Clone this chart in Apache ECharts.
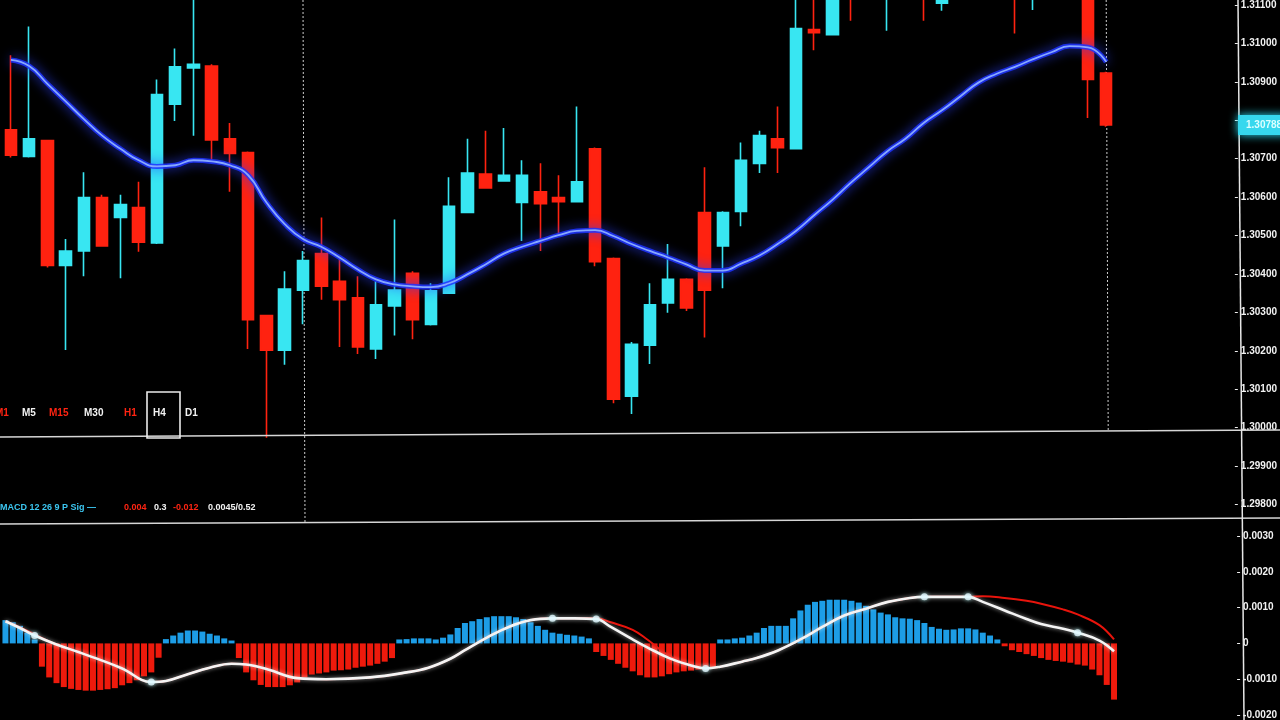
<!DOCTYPE html>
<html>
<head>
<meta charset="utf-8">
<script src="https://cdn.jsdelivr.net/npm/echarts@6/dist/echarts.min.js"></script>
<style>
html,body{margin:0;padding:0;background:#000;overflow:hidden;}
#c{width:1280px;height:720px;}
</style>
</head>
<body>
<div id="c"></div>
<script>
// ---------------- DATA ----------------
const opens = [1.30775,1.30706,1.30747,1.30422,1.30460,1.30599,1.30547,1.30573,1.30481,1.30842,
 1.30936,1.30941,1.30752,1.30716,1.30292,1.30202,1.30358,1.30453,1.30381,1.30338,
 1.30205,1.30317,1.30402,1.30269,1.30350,1.30560,1.30660,1.30642,1.30586,1.30614,
 1.30599,1.30588,1.30726,1.30440,1.30082,1.30215,1.30325,1.30386,1.30560,1.30473,
 1.30563,1.30688,1.30752,1.30726,1.31036,1.31023,1.31246,1.31195,1.31118,1.31246,
 1.31220,1.31105,1.31195,1.31297,1.31207,1.31195,1.31131,1.31246,1.31156,1.31143,
 1.30923];
const closes = [1.30709,1.30752,1.30422,1.30460,1.30599,1.30473,1.30581,1.30483,1.30867,1.30939,
 1.30946,1.30749,1.30714,1.30281,1.30202,1.30361,1.30435,1.30368,1.30333,1.30210,
 1.30320,1.30358,1.30281,1.30356,1.30576,1.30663,1.30624,1.30657,1.30657,1.30583,
 1.30588,1.30640,1.30432,1.30074,1.30217,1.30320,1.30386,1.30312,1.30358,1.30560,
 1.30696,1.30760,1.30729,1.31039,1.31028,1.31156,1.31143,1.31297,1.31220,1.31169,
 1.31131,1.31195,1.31271,1.31207,1.31284,1.31118,1.31207,1.31156,1.31233,1.30906,
 1.30788];
const lows = [1.30703,1.30703,1.30417,1.30202,1.30394,1.30471,1.30389,1.30458,1.30478,1.30798,
 1.30760,1.30696,1.30614,1.30205,1.29974,1.30164,1.30269,1.30333,1.30210,1.30192,
 1.30179,1.30240,1.30230,1.30266,1.30348,1.30558,1.30622,1.30640,1.30486,1.30460,
 1.30504,1.30586,1.30420,1.30064,1.30036,1.30166,1.30299,1.30304,1.30235,1.30363,
 1.30524,1.30663,1.30663,1.30724,1.30982,1.31021,1.31059,1.31169,1.31033,1.31143,
 1.31059,1.31085,1.31169,1.31182,1.31182,1.31026,1.31087,1.31131,1.31131,1.30806,
 1.30783];
const highs = [1.30969,1.31044,1.30749,1.30491,1.30665,1.30606,1.30606,1.30640,1.30906,1.30987,
 1.31143,1.30946,1.30793,1.30719,1.30294,1.30407,1.30460,1.30547,1.30445,1.30394,
 1.30381,1.30542,1.30407,1.30376,1.30652,1.30752,1.30773,1.30780,1.30696,1.30688,
 1.30657,1.30836,1.30729,1.30443,1.30223,1.30376,1.30478,1.30389,1.30678,1.30563,
 1.30742,1.30773,1.30836,1.31118,1.31118,1.31195,1.31271,1.31322,1.31246,1.31271,
 1.31246,1.31220,1.31297,1.31322,1.31310,1.31220,1.31233,1.31271,1.31259,1.31169,
 1.30926];
const maLine = [1.30957,1.30941,1.30895,1.30849,1.30803,1.30760,1.30726,1.30696,1.30680,1.30683,
 1.30696,1.30693,1.30683,1.30657,1.30586,1.30530,1.30491,1.30471,1.30443,1.30412,
 1.30386,1.30373,1.30368,1.30366,1.30376,1.30399,1.30425,1.30453,1.30471,1.30486,
 1.30501,1.30512,1.30514,1.30499,1.30478,1.30460,1.30443,1.30425,1.30409,1.30409,
 1.30427,1.30448,1.30478,1.30512,1.30553,1.30593,1.30637,1.30678,1.30719,1.30752,
 1.30793,1.30826,1.30862,1.30898,1.30921,1.30939,1.30959,1.30977,1.30993,1.30990,
 1.30952];

const macdHist = [0.00065,0.00059,0.00049,0.00030,0.00011,-0.00065,-0.00095,-0.00111,-0.00122,-0.00127,
 -0.00130,-0.00132,-0.00132,-0.00130,-0.00128,-0.00125,-0.00117,-0.00111,-0.00103,-0.00092,
 -0.00081,-0.00040,0.00012,0.00022,0.00030,0.00036,0.00036,0.00033,0.00027,0.00022,
 0.00014,0.00008,-0.00041,-0.00081,-0.00103,-0.00116,-0.00122,-0.00122,-0.00122,-0.00117,
 -0.00109,-0.00095,-0.00087,-0.00084,-0.00081,-0.00076,-0.00075,-0.00073,-0.00068,-0.00065,
 -0.00062,-0.00057,-0.00051,-0.00041,0.00011,0.00012,0.00014,0.00014,0.00014,0.00011,
 0.00016,0.00025,0.00043,0.00057,0.00062,0.00068,0.00073,0.00076,0.00076,0.00076,
 0.00073,0.00068,0.00059,0.00049,0.00038,0.00030,0.00027,0.00024,0.00022,0.00019,
 0.00014,-0.00024,-0.00035,-0.00046,-0.00057,-0.00068,-0.00078,-0.00089,-0.00095,-0.00095,
 -0.00092,-0.00086,-0.00081,-0.00078,-0.00076,-0.00073,-0.00070,-0.00068,0.00011,0.00011,
 0.00014,0.00016,0.00022,0.00030,0.00043,0.00049,0.00049,0.00049,0.00070,0.00092,
 0.00108,0.00116,0.00119,0.00122,0.00122,0.00122,0.00119,0.00114,0.00105,0.00095,
 0.00086,0.00081,0.00073,0.00070,0.00069,0.00065,0.00057,0.00046,0.00041,0.00038,
 0.00039,0.00042,0.00042,0.00039,0.00030,0.00022,0.00011,-0.00008,-0.00019,-0.00024,
 -0.00030,-0.00035,-0.00041,-0.00046,-0.00049,-0.00051,-0.00054,-0.00059,-0.00062,-0.00073,
 -0.00089,-0.00116,-0.00157];

// main (white) line: bar index and value
const whiteIdx = [0,2,4,7,10,13,16,20,22,25,28,31,33,36,40,44,50,55,58,61,63,66,69,72,75,78,81,83,86,88,91,94,96,98,101,103,106,109,112,115,118,121,124,126,129,132,134,137,140,142,145,147,150,152];
const whiteVal = [0.00062,0.00043,0.00022,-0.00003,-0.00024,-0.00046,-0.00070,-0.00108,-0.00105,-0.00086,-0.00068,-0.00057,-0.00059,-0.00073,-0.00097,-0.00100,-0.00095,-0.00081,-0.00068,-0.00043,-0.00019,0.00016,0.00046,0.00065,0.00070,0.00070,0.00068,0.00046,0.00011,-0.00011,-0.00041,-0.00062,-0.00070,-0.00065,-0.00051,-0.00041,-0.00019,0.00011,0.00046,0.00078,0.00097,0.00116,0.00127,0.00130,0.00130,0.00130,0.00116,0.00092,0.00068,0.00054,0.00041,0.00030,0.00008,-0.00022];
// signal (red) line
const redIdx = [0,2,4,7,10,13,16,20,22,25,28,31,33,36,40,44,50,55,58,61,63,66,69,72,75,78,81,83,86,88,91,94,96,98,101,103,106,109,112,115,118,121,124,126,129,132,134,137,140,142,145,147,150,152];
const redVal = [0.00062,0.00045,0.00025,-0.00003,-0.00024,-0.00046,-0.00070,-0.00108,-0.00105,-0.00086,-0.00068,-0.00057,-0.00059,-0.00073,-0.00097,-0.00100,-0.00095,-0.00081,-0.00068,-0.00043,-0.00019,0.00016,0.00046,0.00065,0.00070,0.00070,0.00070,0.00059,0.00038,0.00011,-0.00035,-0.00062,-0.00070,-0.00065,-0.00051,-0.00041,-0.00019,0.00011,0.00046,0.00078,0.00097,0.00116,0.00127,0.00130,0.00130,0.00130,0.00132,0.00127,0.00119,0.00111,0.00095,0.00081,0.00051,0.00011];
// crossing dots (bar indexes on the white line)
const dotIdx = [4,20,75,81,96,126,132,147];

const mainTicks = {min:1.2980, max:1.3110, step:0.0010};
const macdTicks = {min:-0.0020, max:0.0030, step:0.0010};
const tfLabels = ['M1','M5','M15','M30','H1','H4','D1'];
const N_MAIN = 67, N_MACD = 168;

// ---------------- CHART ----------------
const catMain = Array.from({length:N_MAIN},(_,i)=>String(i));
const catMacd = Array.from({length:N_MACD},(_,i)=>String(i));
const candles = opens.map((o,i)=>[o, closes[i], lows[i], highs[i]]);
const whiteData = whiteIdx.map((k,i)=>[k, whiteVal[i]]);
const redData = redIdx.map((k,i)=>[k, redVal[i]]);
const dotData = dotIdx.map(k=>[k, whiteVal[whiteIdx.indexOf(k)]]);
const lastClose = closes[closes.length-1];

const CY = '#38e6f2', RD = '#ff2210';
const FONT = 'Liberation Sans';

const chart = echarts.init(document.getElementById('c'), null, {renderer:'canvas'});
const axisLbl = {color:'#f2f2f2', fontSize:10, fontWeight:'bold', fontFamily:FONT, margin:6};

chart.setOption({
  backgroundColor:'#000',
  animation:false,
  grid:[
    {left:1.8, right:50.1, top:0, bottom:215.4},
    {left:1.8, right:50.1, top:536, bottom:0}
  ],
  xAxis:[
    {type:'category', gridIndex:0, data:catMain, boundaryGap:true, show:false},
    {type:'category', gridIndex:1, data:catMacd, boundaryGap:true, show:false}
  ],
  yAxis:[
    {type:'value', gridIndex:0, position:'right', offset:10,
     min:mainTicks.min, max:mainTicks.max, interval:mainTicks.step,
     splitLine:{show:false}, axisLine:{show:false},
     axisTick:{show:true, length:3, lineStyle:{color:'#eee'}},
     axisLabel:Object.assign({formatter:v=>v.toFixed(5)}, axisLbl)},
    {type:'value', gridIndex:1, position:'right', offset:10,
     min:macdTicks.min, max:macdTicks.max, interval:macdTicks.step,
     splitLine:{show:false}, axisLine:{show:false},
     axisTick:{show:true, length:3, lineStyle:{color:'#eee'}},
     axisLabel:Object.assign({formatter:v=>Math.abs(v)<1e-9?'0':v.toFixed(4)}, axisLbl)}
  ],
  series:[
    {type:'candlestick', xAxisIndex:0, yAxisIndex:0, data:candles, barWidth:12, z:2,
     itemStyle:{color:CY, color0:RD, borderColor:CY, borderColor0:RD, borderWidth:1.6}},
    {type:'line', xAxisIndex:0, yAxisIndex:0, data:maLine, smooth:0.5, symbol:'none', z:3,
     lineStyle:{color:'#1f34ff', width:5, opacity:0.85, shadowBlur:12, shadowColor:'#2a40ff'}},
    {type:'line', xAxisIndex:0, yAxisIndex:0, data:maLine, smooth:0.5, symbol:'none', z:4,
     lineStyle:{color:'#86a8ff', width:1.8}},
    {type:'bar', xAxisIndex:1, yAxisIndex:1, data:macdHist, barWidth:'82%', z:2,
     itemStyle:{color:p=>p.value>=0?'#1d9de6':'#ee1a0c'}},
    {type:'line', xAxisIndex:1, yAxisIndex:1, data:redData, smooth:0.4, symbol:'none', z:3,
     lineStyle:{color:'#e8140c', width:2}},
    {type:'line', xAxisIndex:1, yAxisIndex:1, data:whiteData, smooth:0.4, symbol:'none', z:4,
     lineStyle:{color:'#f4f4f4', width:2.6, shadowBlur:4, shadowColor:'rgba(255,255,255,0.6)'}},
    {type:'scatter', xAxisIndex:1, yAxisIndex:1, data:dotData, symbol:'circle', symbolSize:7, z:5,
     itemStyle:{color:'#e4f8ff', shadowBlur:4, shadowColor:'#bff'}}
  ]
});

// decorations positioned via the chart's own scales
const px16 = chart.convertToPixel({xAxisIndex:0}, 16);
const px60 = chart.convertToPixel({xAxisIndex:0}, 60);
const pyLast = chart.convertToPixel({yAxisIndex:0}, lastClose);
const txt = (t,x,y,fill,size)=>({type:'text', x:x, y:y, z:10,
  style:{text:t, fill:fill, fontSize:size||10, fontWeight:'bold', fontFamily:FONT, verticalAlign:'middle'}});
const tfColors = ['#ff2412','#f2f2f2','#ff2412','#f2f2f2','#ff2412','#f2f2f2','#f2f2f2'];
const tfX = [-5,22,49,84,124,153,185];

chart.setOption({
  graphic:[
    {type:'line', z:9, shape:{x1:0,y1:437,x2:1280,y2:430}, style:{stroke:'#d6d6d6', lineWidth:1.6}},
    {type:'line', z:9, shape:{x1:0,y1:524,x2:1280,y2:518}, style:{stroke:'#d6d6d6', lineWidth:1.6}},
    {type:'line', z:9, shape:{x1:1238,y1:0,x2:1244,y2:720}, style:{stroke:'#e6e6e6', lineWidth:1.5}},
    {type:'line', z:1, shape:{x1:px16,y1:0,x2:px16+2,y2:524}, style:{stroke:'#cfcfcf', lineWidth:1, lineDash:[2,2]}},
    {type:'line', z:1, shape:{x1:px60,y1:0,x2:px60+2,y2:430}, style:{stroke:'#cfcfcf', lineWidth:1, lineDash:[2,2]}},
    {type:'rect', z:11, shape:{x:1238,y:pyLast-10,width:50,height:20},
     style:{fill:'#36d8ee', shadowBlur:10, shadowColor:'#2ee8ff'}},
    txt(lastClose.toFixed(5), 1246, pyLast, '#dcffff', 10),
    {type:'rect', z:10, shape:{x:147,y:392,width:33,height:46}, style:{fill:'none', stroke:'#eaeaea', lineWidth:1.6}},
    ...tfLabels.map((t,i)=>txt(t, tfX[i], 413, tfColors[i], 10)),
    txt('MACD 12 26 9 P Sig \u2014', 0, 508, '#3cc6f0', 9),
    txt('0.004', 124, 508, '#ff2412', 9),
    txt('0.3', 154, 508, '#f2f2f2', 9),
    txt('-0.012', 173, 508, '#ff2412', 9),
    txt('0.0045/0.52', 208, 508, '#f2f2f2', 9)
  ].map(g=>{ if(g.type==='text' && g.style.text===lastClose.toFixed(5)) g.z=12; return g; })
});
</script>
</body>
</html>
